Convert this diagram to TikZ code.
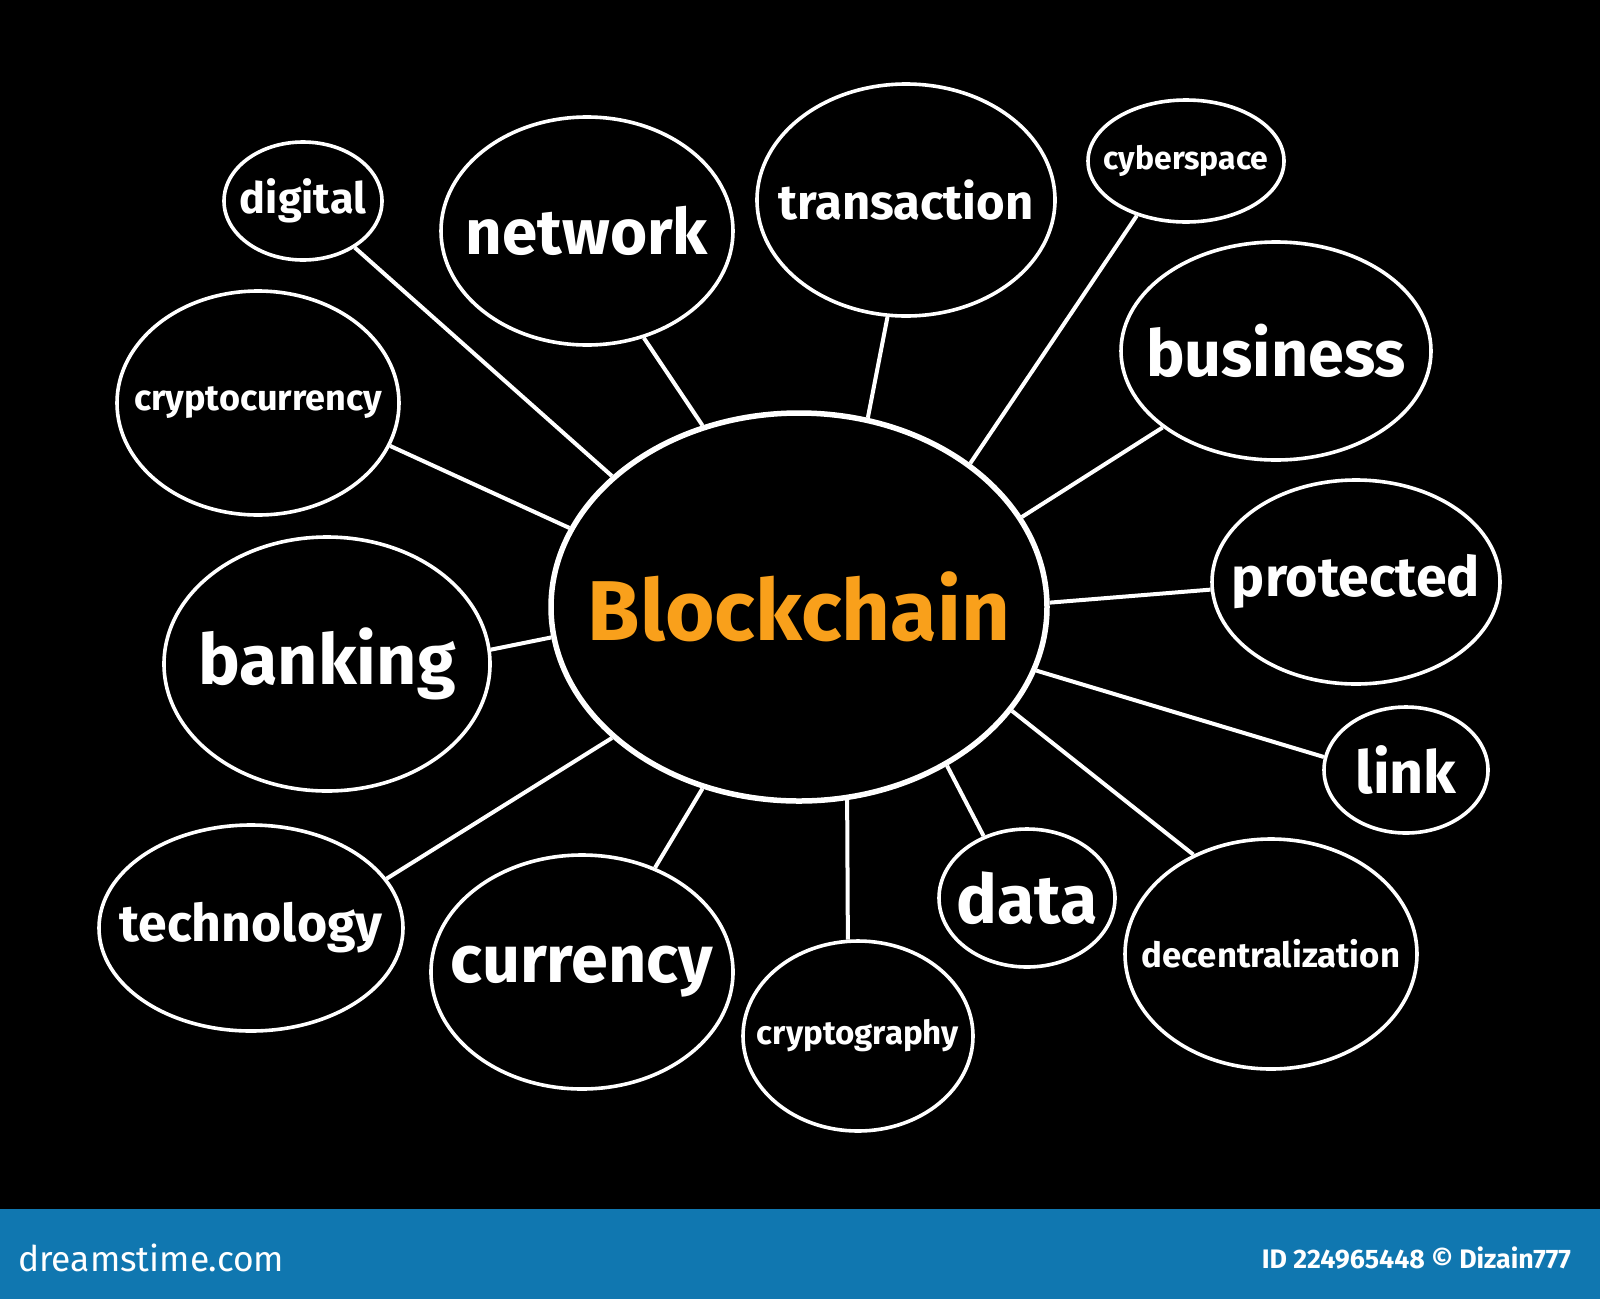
\documentclass[tikz,border=0pt]{standalone}
\usepackage{fontspec}
\setmainfont{Fira Sans}
\usetikzlibrary{shapes.geometric}

\definecolor{hubtext}{HTML}{F9A01B}
\definecolor{stockblue}{HTML}{1077B0}
\newcommand\fitword[2]{\makebox[0pt]{\resizebox{#1pt}{!}{#2}}}

\tikzset{
  bubble/.style={ellipse, draw=white, line width=3.6pt, inner sep=0pt,
    text=white, font=\bfseries},
  hub/.style={bubble, line width=5.5pt},
  spoke/.style={draw=white, line width=4pt},
}

\begin{document}
\begin{tikzpicture}[x=1pt, y=-1pt]
  \useasboundingbox (0,0) rectangle (1600,1299);
  \fill[black] (0,0) rectangle (1600,1299);
  \fill[stockblue] (0,1209) rectangle (1600,1299);

  % centre
  \node[hub, minimum width=496pt, minimum height=388pt] (blockchain) at (799,607)
    {\fitword{422}{\textcolor{hubtext}{Blockchain}}};

  % words round it
  \node[bubble, minimum width=158pt, minimum height=118pt] (digital) at (303,201) {\fitword{126}{digital}};
  \node[bubble, minimum width=292pt, minimum height=228pt] (network) at (587,231) {\fitword{242}{network}};
  \node[bubble, minimum width=298pt, minimum height=232pt] (transaction) at (906,200) {\fitword{255}{transaction}};
  \node[bubble, minimum width=196pt, minimum height=122pt] (cyberspace) at (1186,161) {\fitword{165}{cyberspace}};
  \node[bubble, minimum width=310pt, minimum height=218pt] (business) at (1276,351) {\fitword{260}{business}};
  \node[bubble, minimum width=282pt, minimum height=224pt] (cryptocurrency) at (258,403) {\fitword{248}{cryptocurrency}};
  \node[bubble, minimum width=326pt, minimum height=254pt] (banking) at (327,664) {\fitword{257}{banking}};
  \node[bubble, minimum width=288pt, minimum height=204pt] (protected) at (1356,582) {\fitword{248}{protected}};
  \node[bubble, minimum width=164pt, minimum height=126pt] (link) at (1406,770) {\fitword{101}{link}};
  \node[bubble, minimum width=304pt, minimum height=206pt] (technology) at (251,928) {\fitword{263}{technology}};
  \node[bubble, minimum width=302pt, minimum height=234pt] (currency) at (582,972) {\fitword{262}{currency}};
  \node[bubble, minimum width=230pt, minimum height=190pt] (cryptography) at (858,1036) {\fitword{202}{cryptography}};
  \node[bubble, minimum width=176pt, minimum height=138pt] (data) at (1027,898) {\fitword{141}{data}};
  \node[bubble, minimum width=292pt, minimum height=230pt] (decentralization) at (1271,954) {\fitword{258}{decentralization}};

  % spokes
  \foreach \n/\a/\b in {digital/145/-42, network/118.6/-62, transaction/70/-99,
      cyberspace/40.7/-132, business/22/-146.5, cryptocurrency/161.5/-18,
      banking/-173.6/5.6, protected/1.6/183, link/-15/171,
      technology/-145.6/20.8, currency/-118.4/55.8, cryptography/-76.4/96.6,
      data/-47.5/125.8, decentralization/-26/128}
    \draw[spoke] (blockchain.\a) -- (\n.\b);

  % stock bar
  \node[anchor=west, text=white, inner sep=0pt] (site) at (18,1258) {\resizebox{266pt}{!}{dreamstime.com}};
  \node[anchor=east, text=white, inner sep=0pt, font=\bfseries] (imageid) at (1571,1258) {\resizebox{309pt}{!}{ID 224965448 © Dizain777}};
\end{tikzpicture}
\end{document}
